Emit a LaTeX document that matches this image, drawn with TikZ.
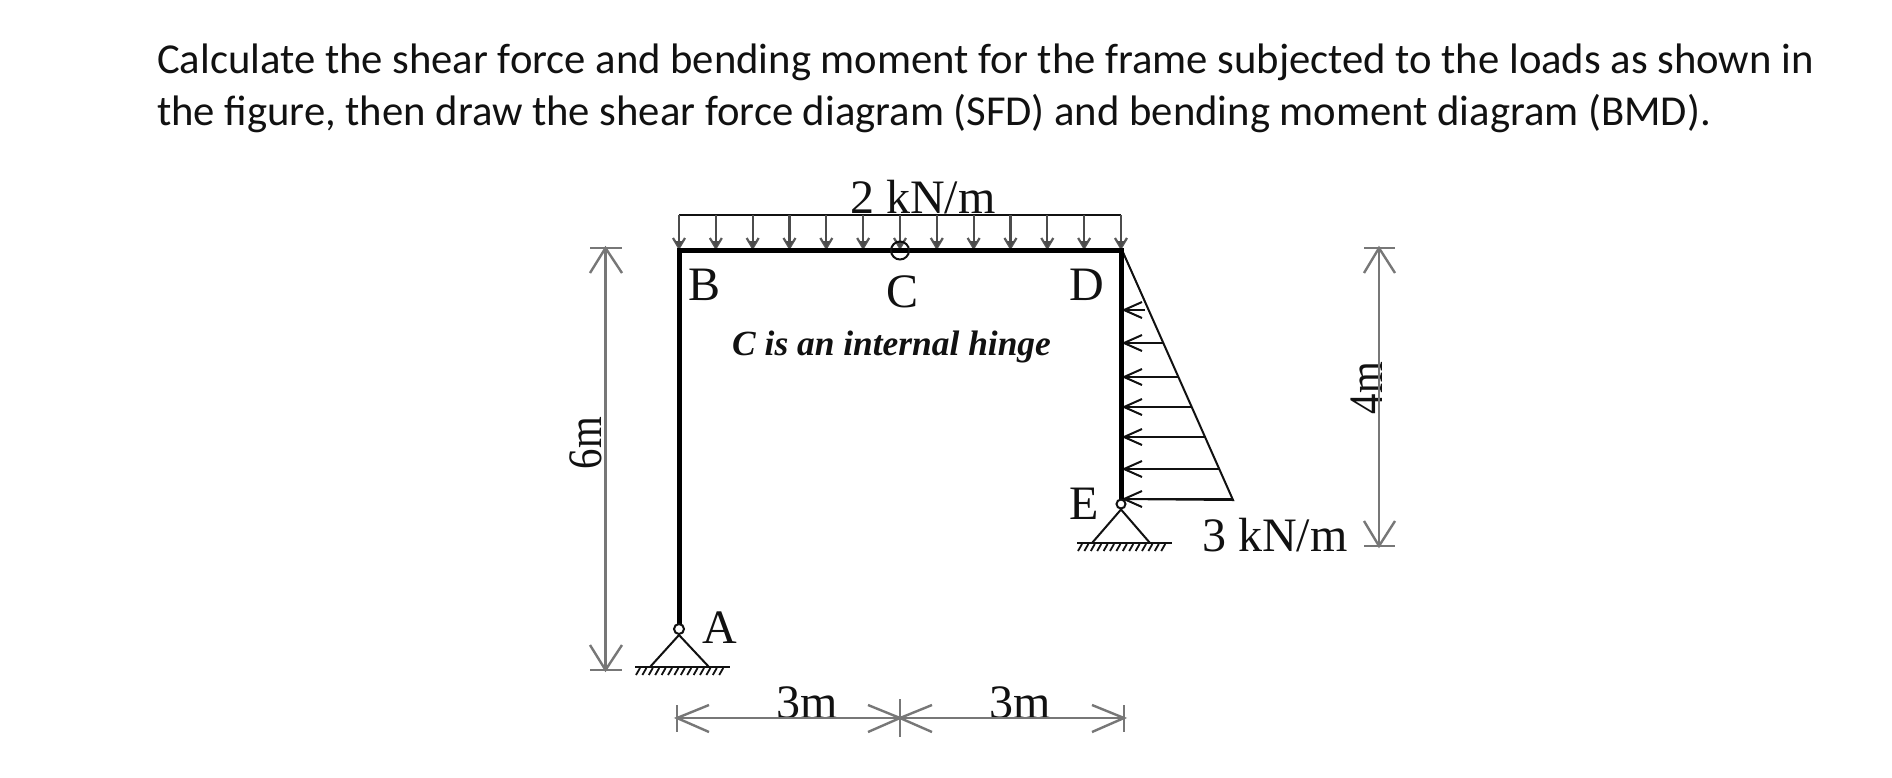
\documentclass[tikz,border=0pt]{standalone}
\usepackage{fontspec}
\setmainfont{Carlito}
\newfontfamily\tms{Liberation Serif}
\definecolor{dimc}{HTML}{777777}
\definecolor{ink}{HTML}{111111}
\newcommand{\fs}[1]{\fontsize{#1}{#1}\selectfont}
\tikzset{
  x=1pt,y=-1pt,
  heading/.style={anchor=base west,inner sep=0pt,font=\fs{42.65},text=ink},
  lab/.style={anchor=base west,inner sep=0pt,font=\tms\fs{48},text=ink},
  italab/.style={anchor=base west,inner sep=0pt,font=\tms\bfseries\itshape\fs{35.4},text=ink},
  vlab/.style={anchor=base,inner sep=0pt,font=\tms\fs{48},text=ink,rotate=90,xscale=.85},
  member/.style={line width=5pt,draw=black},
  thinl/.style={line width=2pt,draw=ink},
  loadl/.style={line width=2.2pt,draw=black!70},
  barb/.style={line width=2.2pt,draw=black!65},
  dimen/.style={line width=2.4pt,draw=dimc},
  hinge/.style={circle,draw=ink,line width=2pt,fill=white,inner sep=0pt,minimum size=#1},
}
\begin{document}
\begin{tikzpicture}
\useasboundingbox[fill=white] (0,0) rectangle (1892,777);
% heading
\node[heading] (t1) at (157,73) {Calculate the shear force and bending moment for the frame subjected to the loads as shown in};
\node[heading] (t2) at (157,125) {the figure, then draw the shear force diagram (SFD) and bending moment diagram (BMD).};
% frame points
\coordinate (A) at (679,625);
\coordinate (B) at (679,250);
\coordinate (D) at (1121,250);
\coordinate (E) at (1121,499);
% UDL
\coordinate (ul) at (679,215);
\coordinate (ur) at (1121,215);
\draw[thinl] (ul) -- (ur);
\foreach \i in {0,...,12}{
  \pgfmathsetmacro{\xx}{679+\i*36.83}
  \coordinate (u\i) at (\xx,215);
  \coordinate (v\i) at (\xx,248);
  \draw[loadl] (u\i) -- (v\i);
  \draw[barb] (\xx-6,238) -- (v\i) -- (\xx+6,238);
  \fill[black!70] (\xx-4,241) -- (v\i) -- (\xx+4,241) -- cycle;
}
% triangular load
\coordinate (tr) at (1233,500);
\draw[thinl] (1122,250) -- (tr) -- (E);
\foreach \yy in {310,343,377,407,437,469,499}{
  \pgfmathsetmacro{\xe}{1121+(\yy-250)*0.448}
  \coordinate (lf) at (1124,\yy);
  \coordinate (lt) at (\xe,\yy);
  \ifnum\yy=310\else\draw[thinl] (lf) -- (lt);\fi
  \draw[thinl] (1142,\yy-8) -- (lf) -- (1142,\yy+8);
  \ifnum\yy=310\draw[thinl] (lf) -- (1145,310);\fi
}
% frame
\draw[member,line join=miter] (A) -- (B) -- (D) -- (E);
% hinge C
\node[hinge=18pt,fill=none] (hc) at (900,250.5) {};
% support E
\coordinate (es1) at (1092,543);
\coordinate (es2) at (1150,543);
\node[hinge=9pt] (he) at (1121,504) {};
\draw[thinl] (es1) -- (he.south) -- (es2);
\coordinate (eg1) at (1077,543);
\coordinate (eg2) at (1172,543);
\draw[line width=2.6pt,draw=ink] (eg1) -- (eg2);
\foreach \i in {0,...,13}{
  \draw[line width=1.8pt,draw=ink] (1082+\i*6.4,544) -- (1078+\i*6.4,551);
}
% support A
\coordinate (as1) at (650,667);
\coordinate (as2) at (709,667);
\node[hinge=10pt] (ha) at (679,629) {};
\draw[thinl] (as1) -- (ha.south) -- (as2);
\coordinate (ag1) at (635,667);
\coordinate (ag2) at (730,667);
\draw[line width=2.6pt,draw=ink] (ag1) -- (ag2);
\foreach \i in {0,...,13}{
  \draw[line width=1.8pt,draw=ink] (640+\i*6.4,668) -- (636+\i*6.4,675);
}
% labels
\node[lab] (l2) at (850,213) {2 kN/m};
\node[lab] (lB) at (688,300) {B};
\node[lab] (lC) at (886,307) {C};
\node[lab] (lD) at (1069,300) {D};
\node[lab] (lE) at (1069,519) {E};
\node[lab] (lA) at (702,643) {A};
\node[lab] (l3) at (1202,551) {3 kN/m};
\node[italab] (li) at (732,355) {C is an internal hinge};
\node[lab] (m1) at (776,718) {3m};
\node[lab] (m2) at (989,718) {3m};
\node[vlab] (l4) at (1382,388) {4m};
\node[vlab] (l6) at (601,443) {6m};
% 6 m dimension
\coordinate (d6a) at (605.5,248);
\coordinate (d6b) at (605.5,670);
\draw[dimen] (d6a) -- (d6b);
\draw[dimen] (590,248) -- (622,248) (590,670) -- (622,670);
\draw[dimen] (590,273) -- (d6a) -- (622,273);
\draw[dimen] (590,645) -- (d6b) -- (622,645);
% 4 m dimension
\coordinate (d4a) at (1379,248);
\coordinate (d4b) at (1379,546);
\draw[dimen] (d4a) -- (d4b);
\draw[dimen] (1364,248) -- (1395,248) (1364,546) -- (1395,546);
\draw[dimen] (1364,273) -- (d4a) -- (1395,273);
\draw[dimen] (1364,521) -- (d4b) -- (1395,521);
% 3 m dimensions
\coordinate (h1) at (677,718);
\coordinate (h2) at (900,718);
\coordinate (h3) at (1124,718);
\draw[dimen] (h1) -- (h2) -- (h3);
\draw[dimen] (677,705) -- (677,732) (900,699) -- (900,737) (1124,705) -- (1124,732);
\draw[dimen] (709,705) -- (h1) -- (709,732);
\draw[dimen] (868,705) -- (h2) -- (868,732);
\draw[dimen] (932,705) -- (h2) -- (932,732);
\draw[dimen] (1092,705) -- (h3) -- (1092,732);
\end{tikzpicture}
\end{document}
